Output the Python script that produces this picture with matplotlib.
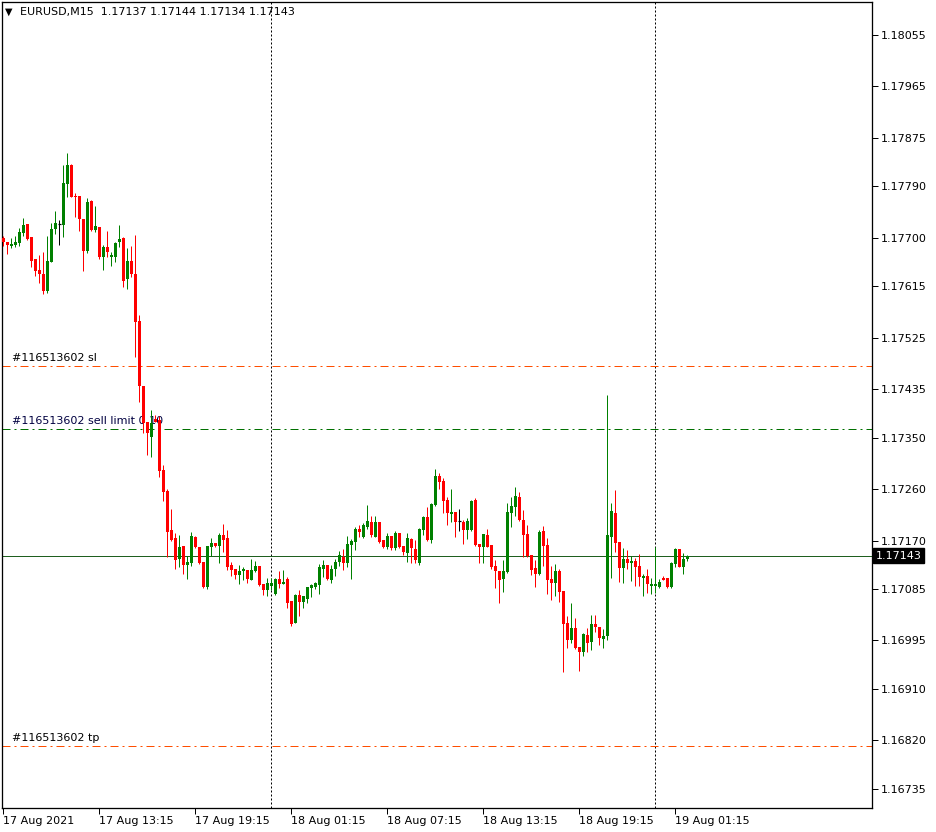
import matplotlib
matplotlib.use('Agg')
import matplotlib.pyplot as plt
import matplotlib.transforms as mtransforms
import pandas as pd

plt.rcParams['font.family'] = ['DejaVu Sans']

# EURUSD M15 bars, first bar 17 Aug 2021 07:15
first_bar = '2021-08-17 07:15'

opens = [
    1.17700, 1.17693, 1.17686, 1.17687, 1.17691, 1.17709, 1.17724, 1.17701, 1.17663, 1.17644,
    1.17637, 1.17607, 1.17658, 1.17715, 1.17724, 1.17723, 1.17795, 1.17827, 1.17773, 1.17773,
    1.17733, 1.17677, 1.17764, 1.17714, 1.17719, 1.17666, 1.17684, 1.17666, 1.17667, 1.17693,
    1.17700, 1.17627, 1.17659, 1.17637, 1.17554, 1.17440, 1.17378, 1.17352, 1.17383, 1.17381,
    1.17293, 1.17257, 1.17188, 1.17175, 1.17137, 1.17160, 1.17127, 1.17131, 1.17176, 1.17159,
    1.17132, 1.17088, 1.17158, 1.17165, 1.17160, 1.17180, 1.17174, 1.17127, 1.17120, 1.17110,
    1.17117, 1.17118, 1.17101, 1.17117, 1.17125, 1.17094, 1.17083, 1.17090, 1.17076, 1.17103,
    1.17094, 1.17103, 1.17064, 1.17026, 1.17074, 1.17063, 1.17068, 1.17087, 1.17088, 1.17092,
    1.17121, 1.17127, 1.17100, 1.17120, 1.17133, 1.17142, 1.17131, 1.17163, 1.17168, 1.17190,
    1.17176, 1.17194, 1.17202, 1.17177, 1.17202, 1.17171, 1.17159, 1.17178, 1.17157, 1.17184,
    1.17160, 1.17149, 1.17173, 1.17155, 1.17130, 1.17188, 1.17212, 1.17171, 1.17232, 1.17283,
    1.17274, 1.17241, 1.17216, 1.17220, 1.17204, 1.17203, 1.17188, 1.17188, 1.17241, 1.17164,
    1.17159, 1.17180, 1.17162, 1.17125, 1.17117, 1.17103, 1.17115, 1.17219, 1.17229, 1.17246,
    1.17206, 1.17182, 1.17145, 1.17122, 1.17111, 1.17186, 1.17162, 1.17103, 1.17096, 1.17117,
    1.17082, 1.17026, 1.16996, 1.17017, 1.16983, 1.16974, 1.17005, 1.16993, 1.17024, 1.17019,
    1.16998, 1.17002, 1.17177, 1.17219, 1.17167, 1.17122, 1.17138, 1.17131, 1.17134, 1.17125,
    1.17105, 1.17108, 1.17091, 1.17091, 1.17089, 1.17105, 1.17104, 1.17088, 1.17129, 1.17155,
    1.17124, 1.17137,
]
highs = [
    1.17703, 1.17693, 1.17700, 1.17703, 1.17717, 1.17735, 1.17724, 1.17701, 1.17663, 1.17669,
    1.17675, 1.17703, 1.17726, 1.17747, 1.17732, 1.17828, 1.17848, 1.17829, 1.17778, 1.17773,
    1.17733, 1.17769, 1.17767, 1.17756, 1.17719, 1.17687, 1.17712, 1.17675, 1.17692, 1.17722,
    1.17702, 1.17682, 1.17686, 1.17705, 1.17565, 1.17440, 1.17378, 1.17399, 1.17390, 1.17388,
    1.17302, 1.17261, 1.17225, 1.17184, 1.17180, 1.17160, 1.17143, 1.17185, 1.17178, 1.17159,
    1.17132, 1.17161, 1.17175, 1.17166, 1.17184, 1.17199, 1.17188, 1.17133, 1.17120, 1.17127,
    1.17124, 1.17118, 1.17137, 1.17134, 1.17125, 1.17094, 1.17104, 1.17104, 1.17104, 1.17117,
    1.17118, 1.17106, 1.17064, 1.17076, 1.17083, 1.17073, 1.17089, 1.17093, 1.17098, 1.17129,
    1.17136, 1.17127, 1.17127, 1.17137, 1.17152, 1.17155, 1.17178, 1.17172, 1.17194, 1.17197,
    1.17201, 1.17232, 1.17213, 1.17213, 1.17202, 1.17171, 1.17183, 1.17178, 1.17187, 1.17184,
    1.17160, 1.17183, 1.17175, 1.17171, 1.17192, 1.17213, 1.17229, 1.17235, 1.17296, 1.17289,
    1.17279, 1.17247, 1.17260, 1.17220, 1.17225, 1.17206, 1.17209, 1.17241, 1.17244, 1.17164,
    1.17182, 1.17190, 1.17162, 1.17136, 1.17117, 1.17136, 1.17236, 1.17247, 1.17263, 1.17255,
    1.17223, 1.17197, 1.17145, 1.17136, 1.17189, 1.17195, 1.17175, 1.17125, 1.17129, 1.17120,
    1.17082, 1.17038, 1.17060, 1.17034, 1.16983, 1.17008, 1.17016, 1.17040, 1.17040, 1.17019,
    1.17015, 1.17425, 1.17235, 1.17258, 1.17167, 1.17157, 1.17153, 1.17143, 1.17140, 1.17146,
    1.17111, 1.17120, 1.17105, 1.17159, 1.17103, 1.17108, 1.17104, 1.17132, 1.17157, 1.17155,
    1.17149, 1.17144,
]
lows = [
    1.17686, 1.17672, 1.17682, 1.17684, 1.17686, 1.17703, 1.17696, 1.17649, 1.17633, 1.17620,
    1.17602, 1.17603, 1.17657, 1.17707, 1.17688, 1.17702, 1.17771, 1.17771, 1.17737, 1.17712,
    1.17641, 1.17673, 1.17712, 1.17710, 1.17663, 1.17644, 1.17666, 1.17651, 1.17658, 1.17684,
    1.17613, 1.17611, 1.17631, 1.17492, 1.17413, 1.17359, 1.17320, 1.17317, 1.17377, 1.17281,
    1.17239, 1.17142, 1.17169, 1.17121, 1.17123, 1.17111, 1.17102, 1.17126, 1.17157, 1.17129,
    1.17086, 1.17085, 1.17143, 1.17159, 1.17131, 1.17150, 1.17118, 1.17108, 1.17103, 1.17094,
    1.17101, 1.17095, 1.17100, 1.17115, 1.17091, 1.17075, 1.17072, 1.17083, 1.17075, 1.17086,
    1.17093, 1.17052, 1.17020, 1.17025, 1.17038, 1.17051, 1.17060, 1.17071, 1.17085, 1.17076,
    1.17106, 1.17101, 1.17095, 1.17107, 1.17125, 1.17118, 1.17124, 1.17103, 1.17153, 1.17176,
    1.17175, 1.17191, 1.17177, 1.17176, 1.17166, 1.17157, 1.17156, 1.17153, 1.17153, 1.17157,
    1.17145, 1.17133, 1.17131, 1.17130, 1.17128, 1.17180, 1.17170, 1.17165, 1.17231, 1.17260,
    1.17219, 1.17197, 1.17203, 1.17176, 1.17187, 1.17164, 1.17172, 1.17187, 1.17161, 1.17131,
    1.17130, 1.17158, 1.17120, 1.17086, 1.17061, 1.17080, 1.17114, 1.17193, 1.17213, 1.17205,
    1.17142, 1.17141, 1.17110, 1.17088, 1.17110, 1.17125, 1.17076, 1.17066, 1.17073, 1.17063,
    1.16939, 1.16981, 1.16990, 1.16980, 1.16942, 1.16968, 1.16975, 1.16978, 1.17009, 1.16987,
    1.16982, 1.16995, 1.17105, 1.17150, 1.17098, 1.17095, 1.17121, 1.17099, 1.17090, 1.17090,
    1.17072, 1.17078, 1.17076, 1.17078, 1.17086, 1.17100, 1.17087, 1.17086, 1.17124, 1.17123,
    1.17111, 1.17134,
]
closes = [
    1.17693, 1.17688, 1.17689, 1.17693, 1.17710, 1.17722, 1.17698, 1.17660, 1.17642, 1.17637,
    1.17607, 1.17659, 1.17715, 1.17726, 1.17724, 1.17796, 1.17827, 1.17772, 1.17771, 1.17733,
    1.17677, 1.17763, 1.17714, 1.17721, 1.17666, 1.17684, 1.17675, 1.17669, 1.17691, 1.17698,
    1.17625, 1.17659, 1.17637, 1.17553, 1.17441, 1.17375, 1.17359, 1.17375, 1.17378, 1.17292,
    1.17255, 1.17185, 1.17171, 1.17136, 1.17158, 1.17127, 1.17132, 1.17178, 1.17158, 1.17131,
    1.17088, 1.17160, 1.17166, 1.17160, 1.17180, 1.17171, 1.17124, 1.17118, 1.17110, 1.17117,
    1.17120, 1.17102, 1.17118, 1.17125, 1.17092, 1.17083, 1.17095, 1.17096, 1.17103, 1.17094,
    1.17097, 1.17061, 1.17024, 1.17075, 1.17062, 1.17072, 1.17088, 1.17092, 1.17096, 1.17124,
    1.17127, 1.17102, 1.17121, 1.17133, 1.17145, 1.17131, 1.17164, 1.17170, 1.17190, 1.17185,
    1.17197, 1.17204, 1.17180, 1.17202, 1.17168, 1.17158, 1.17178, 1.17157, 1.17184, 1.17159,
    1.17150, 1.17174, 1.17157, 1.17136, 1.17190, 1.17212, 1.17171, 1.17234, 1.17283, 1.17273,
    1.17239, 1.17219, 1.17220, 1.17203, 1.17204, 1.17188, 1.17204, 1.17239, 1.17162, 1.17159,
    1.17181, 1.17159, 1.17124, 1.17117, 1.17101, 1.17117, 1.17220, 1.17230, 1.17248, 1.17206,
    1.17180, 1.17143, 1.17118, 1.17111, 1.17185, 1.17161, 1.17101, 1.17096, 1.17117, 1.17080,
    1.17024, 1.16996, 1.17017, 1.16981, 1.16974, 1.17006, 1.16991, 1.17024, 1.17018, 1.17000,
    1.17003, 1.17180, 1.17222, 1.17166, 1.17122, 1.17138, 1.17131, 1.17134, 1.17124, 1.17106,
    1.17108, 1.17093, 1.17094, 1.17094, 1.17098, 1.17101, 1.17089, 1.17131, 1.17155, 1.17124,
    1.17138, 1.17143,
]

# order levels
order_id = '116513602'
sl_price = 1.17476
entry_price = 1.17365
tp_price = 1.16810
bid_price = 1.17143

price_ticks = [1.18055, 1.17965, 1.17875, 1.17790, 1.17700, 1.17615, 1.17525, 1.17435,
               1.17350, 1.17260, 1.17170, 1.17085, 1.16995, 1.16910, 1.16820, 1.16735]
time_tick_bars = [0, 24, 48, 72, 96, 120, 144, 168]

times = pd.date_range(first_bar, periods=len(opens), freq='15min')

bull = '#008000'
bear = '#ff0000'
fs = 8

fig = plt.figure(figsize=(9.36, 8.32), dpi=100)
ax = fig.add_axes([2 / 936, 24 / 832, 870 / 936, 806 / 832])

px = 0.72  # one pixel in points
for i in range(len(opens)):
    o, h, l, c = opens[i], highs[i], lows[i], closes[i]
    if c > o:
        col = bull
    elif c < o:
        col = bear
    else:
        col = 'black'
    ax.vlines(i, l, h, color=col, linewidth=px, zorder=3)
    if c == o:
        ax.hlines(o, i - 0.45, i + 0.45, color=col, linewidth=px * 1.2, zorder=3)
    else:
        ax.bar(i, max(abs(c - o), 0.000018), bottom=min(o, c), width=0.78,
               color=col, linewidth=0, zorder=3)

# day separators
for i, t in enumerate(times):
    if t.hour == 0 and t.minute == 0:
        ax.axvline(i, color='black', linestyle=(0, (2, 2)), linewidth=px, zorder=1)

# order lines
dashdot = (0, (8, 4, 2, 4))
ax.axhline(sl_price, color='#ff4e00', linestyle=dashdot, linewidth=px, zorder=1)
ax.axhline(tp_price, color='#ff4e00', linestyle=dashdot, linewidth=px, zorder=1)
ax.axhline(entry_price, color='#007000', linestyle=dashdot, linewidth=px, zorder=1)
ax.axhline(bid_price, color='#1f5f1f', linewidth=px, zorder=2)

blend = mtransforms.blended_transform_factory(ax.transAxes, ax.transData)
lab_dx = 10 / 870
ax.text(lab_dx, sl_price + 0.00005, '#' + order_id + ' sl', transform=blend,
        fontsize=fs, va='bottom', ha='left', zorder=2)
ax.text(lab_dx, entry_price + 0.00005, '#' + order_id + ' sell limit 0.10', transform=blend,
        fontsize=fs, va='bottom', ha='left', color='#000040', zorder=2)
ax.text(lab_dx, tp_price + 0.00005, '#' + order_id + ' tp', transform=blend,
        fontsize=fs, va='bottom', ha='left', zorder=2)

ax.text(1.004, bid_price, f'{bid_price:.5f}', transform=blend, fontsize=fs,
        color='white', va='center', ha='left', clip_on=False,
        bbox=dict(boxstyle='square,pad=0.22', facecolor='black', edgecolor='black'))

fig.text(5 / 936, 1 - 12 / 832, '\u25BC', fontsize=7, va='center', ha='left')
fig.text(20 / 936, 1 - 12 / 832,
         f'EURUSD,M15  {opens[-1]:.5f} {highs[-1]:.5f} {lows[-1]:.5f} {closes[-1]:.5f}',
         fontsize=fs, va='center', ha='left')

ax.set_xlim(-0.325, 217.175)
ax.set_ylim(1.167017, 1.181128)

ax.yaxis.tick_right()
ax.set_yticks(price_ticks)
ax.set_yticklabels([f'{p:.5f}' for p in price_ticks])
ax.set_xticks(time_tick_bars)
xlabels = []
for b in time_tick_bars:
    t = times[b]
    xlabels.append(t.strftime('%d %b %Y') if b == 0 else t.strftime('%d %b %H:%M'))
ax.set_xticklabels(xlabels, ha='left')
ax.tick_params(axis='both', labelsize=fs, length=4, width=px, direction='out', pad=2)

for sp in ax.spines.values():
    sp.set_linewidth(px * 1.3)

fig.savefig('out.png', dpi=100)
